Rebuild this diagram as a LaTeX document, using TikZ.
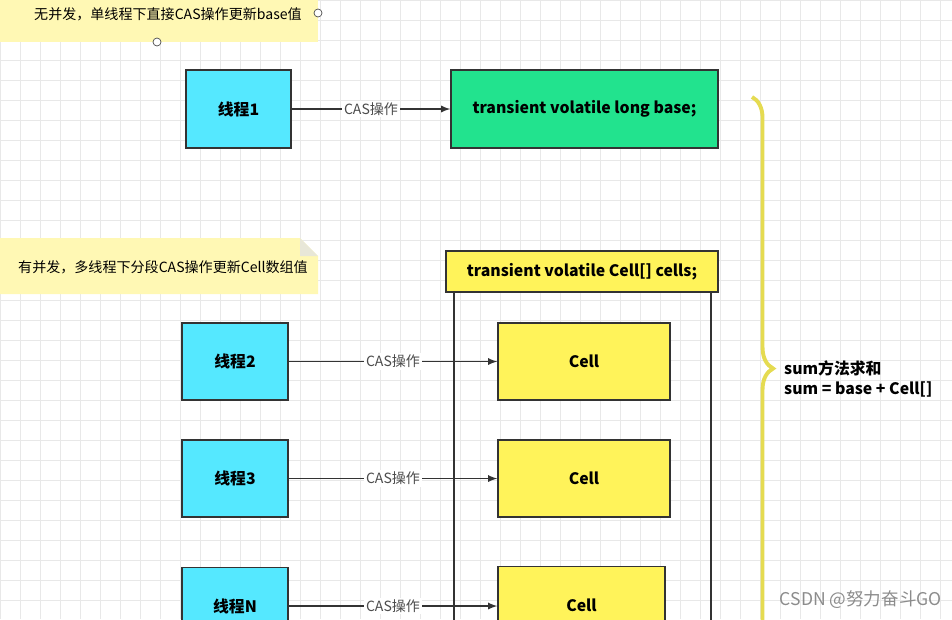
\documentclass[tikz,border=0pt]{standalone}
\usepackage{fontspec}
\setmainfont{Liberation Sans}
\newfontfamily\cjk{Noto Sans CJK SC}
\usetikzlibrary{decorations.pathreplacing}
\definecolor{notey}{RGB}{255,248,180}
\definecolor{thr}{RGB}{85,232,255}
\definecolor{grn}{RGB}{34,227,142}
\definecolor{celly}{RGB}{255,243,90}
\definecolor{gridc}{RGB}{232,232,232}
\begin{document}
\begin{tikzpicture}[x=0.02cm,y=-0.02cm,
  box/.style={draw=black!80,thick,font=\cjk\bfseries\fontsize{9}{10}\selectfont},
  note/.style={fill=notey,draw=none},
  lbl/.style={fill=white,inner sep=1pt,font=\cjk\fontsize{8}{9}\selectfont,text=black!70},
  conn/.style={draw=black!80,thick,-latex}]
\useasboundingbox (0,0) rectangle (952,619);
\fill[white] (0,0) rectangle (952,619);
\foreach \i in {0,20,...,940} \draw[gridc,thin] (\i,0) -- (\i,619);
\foreach \j in {0,20,...,600} \draw[gridc,thin] (0,\j) -- (952,\j);
% notes
\fill[notey] (0,0) rectangle (318,42);
\node[anchor=west,font=\cjk\fontsize{8}{9}\selectfont] (n1) at (28,14) {无并发，单线程下直接CAS操作更新base值};
\draw[black!70,fill=white] (318,13) circle (4);
\draw[black!70,fill=white] (157,42) circle (4);
\fill[notey] (0,238) -- (300,238) -- (318,256) -- (318,294) -- (0,294) -- cycle;
\fill[notey!70!black!30] (300,238) -- (300,256) -- (318,256) -- cycle;
\node[anchor=west,font=\cjk\fontsize{8}{9}\selectfont] (n2) at (12,267) {有并发，多线程下分段CAS操作更新Cell数组值};
% top row
\node[box,fill=thr,minimum width=2.1cm,minimum height=1.56cm] (t1) at (238.5,109) {线程1};
\node[box,fill=grn,minimum width=5.34cm,minimum height=1.56cm] (base) at (584.5,109) {transient volatile long base;};
\draw[conn] (t1) -- node[lbl] {CAS操作} (base);
% cells container
\draw[black!80,thick] (454,292) -- (454,625) (711,292) -- (711,625);
\node[box,fill=celly,minimum width=5.44cm,minimum height=0.82cm] (hdr) at (582,271.5) {transient volatile Cell[] cells;};
\node[box,fill=celly,minimum width=3.44cm,minimum height=1.54cm] (c1) at (584,361.5) {Cell};
\node[box,fill=celly,minimum width=3.44cm,minimum height=1.54cm] (c2) at (584,478.5) {Cell};
\node[box,fill=celly,minimum width=3.34cm,minimum height=1.54cm] (c3) at (581.5,605) {Cell};
\node[box,fill=thr,minimum width=2.12cm,minimum height=1.54cm] (t2) at (235,361.5) {线程2};
\node[box,fill=thr,minimum width=2.12cm,minimum height=1.54cm] (t3) at (235,478.5) {线程3};
\node[box,fill=thr,minimum width=2.12cm,minimum height=1.54cm] (tn) at (235,606) {线程N};
\draw[conn] (t2) -- node[lbl] {CAS操作} (c1);
\draw[conn] (t3) -- node[lbl] {CAS操作} (c2);
\draw[conn] (tn.east) -- node[lbl] {CAS操作} (c3.west |- tn.east);
% brace
\draw[celly!90!black,line width=2.2pt,decorate,decoration={brace,amplitude=12pt}] (752,97) -- (752,640);
\node[anchor=west,align=left,font=\cjk\bfseries\fontsize{9}{11}\selectfont] (sum) at (778,379) {sum方法求和\\sum = base + Cell[]};
\node[anchor=south east,text=black!45,font=\cjk\fontsize{10}{11}\selectfont] (wm) at (948,615) {CSDN @努力奋斗GO};
\end{tikzpicture}
\end{document}
